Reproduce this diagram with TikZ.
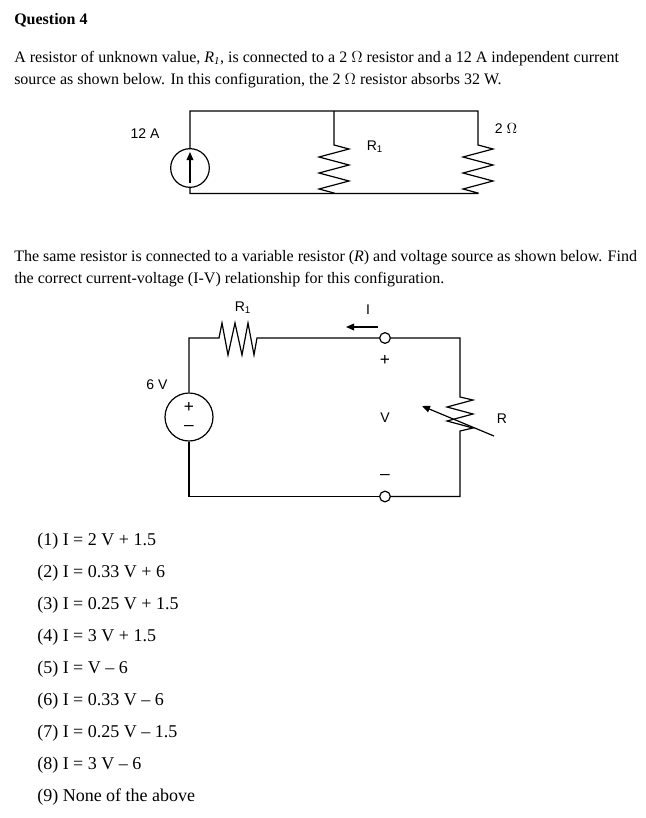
\documentclass[tikz,border=0pt]{standalone}
\usepackage{fontspec}
\setmainfont{Liberation Serif}
\newfontfamily\csans{Liberation Sans}
\usetikzlibrary{arrows.meta}
\begin{document}
\begin{tikzpicture}[x=0.75pt,y=-0.75pt,
  txt/.style={anchor=base west,inner sep=0,font=\fontsize{12}{14}\selectfont},
  lab/.style={inner sep=0,font=\csans\fontsize{10.5}{12}\selectfont},
  wire/.style={line width=0.9pt},
  term/.style={circle,draw,line width=0.9pt,minimum size=8pt,inner sep=0,fill=white}]
\useasboundingbox (0,0) rectangle (646,818);
\node[txt,font=\bfseries\fontsize{12}{14}\selectfont] (q) at (14,24) {Question 4};
\node[txt] (p1) at (14,62) {A resistor of unknown value, \textit{R\textsubscript{1}}, is connected to a 2 $\Omega$ resistor and a 12 A independent current};
\node[txt] (p2) at (14,84) {source as shown below. In this configuration, the 2 $\Omega$ resistor absorbs 32 W.};
% circuit 1
\node[circle,draw,line width=0.9pt,minimum size=29pt,inner sep=0] (cs) at (190,168) {};
\draw[wire] (cs.north) -- (190,111) -- (478,111) -- (478,145)
  -- ++(15,4) -- ++(-30,8) -- ++(30,8) -- ++(-30,8) -- ++(30,8) -- ++(-30,8) -- ++(15,4)
  -- (478,193.5) -- (190,193.5) -- (cs.south);
\draw[wire] (334,111) -- (334,145)
  -- ++(15,4) -- ++(-30,8) -- ++(30,8) -- ++(-30,8) -- ++(30,8) -- ++(-30,8) -- ++(15,4) -- (334,193.5);
\draw[wire,-{Triangle[length=6pt,width=5pt]}] (190,183) -- (190,152);
\node[lab] (l12) at (145,134) {12 A};
\node[lab] (lr1) at (375,147) {R\textsubscript{1}};
\node[lab] (l2) at (506,129) {2 $\Omega$};
\node[txt] (p3) at (14,261) {The same resistor is connected to a variable resistor (\textit{R}) and voltage source as shown below. Find};
\node[txt] (p4) at (14,283) {the correct current-voltage (I-V) relationship for this configuration.};
% circuit 2
\node[circle,draw,line width=0.9pt,minimum size=36pt,inner sep=0] (vs) at (189,417) {};
\node[lab,font=\csans\fontsize{13}{14}\selectfont] at (189,407) {+};
\node[lab,font=\csans\fontsize{13}{14}\selectfont] at (189,428) {–};
\node[term] (ta) at (385,338) {};
\node[term] (tb) at (385,496.5) {};
\draw[wire] (vs.north) -- (189,338) -- (219,338) -- ++(3,-15) -- ++(6,32) -- ++(7,-32) -- ++(7,32) -- ++(6,-32) -- ++(6,32) -- ++(3,-17) -- (ta.west);
\draw[wire] (ta.east) -- (460,338) -- (460,397) -- ++(13,3) -- ++(-26,7) -- ++(26,7) -- ++(-26,7) -- ++(26,7) -- ++(-13,3) -- (460,496.5) -- (tb.east);
\draw[wire] (tb.west) -- (189,496.5) -- (vs.south);
\draw[line width=0.9pt,-{Triangle[length=6pt,width=5pt]}] (494,436) -- (422,406);
\draw[line width=0.9pt,-{Triangle[length=6pt,width=5pt]}] (378,327) -- (346,327);
\node[lab] (lr1b) at (243,308) {R\textsubscript{1}};
\node[lab] (li) at (368,310) {I};
\node[lab,font=\csans\fontsize{13}{14}\selectfont] (lp) at (385,360) {+};
\node[lab] (lv) at (385,418) {V};
\node[lab,font=\csans\fontsize{13}{14}\selectfont] (lm) at (385,477) {–};
\node[lab] (lr) at (502,419) {R};
\node[lab] (l6) at (157,385) {6 V};
% options
\foreach \t [count=\i] in {I = 2 V + 1.5, I = 0.33 V + 6, I = 0.25 V + 1.5, I = 3 V + 1.5, I = V -- 6, I = 0.33 V -- 6, I = 0.25 V -- 1.5, I = 3 V -- 6, None of the above}
  \node[txt,font=\fontsize{13.5}{15}\selectfont] (o\i) at (37,{540+(\i-1)*32+5}) {(\i) \t};
\end{tikzpicture}
\end{document}
